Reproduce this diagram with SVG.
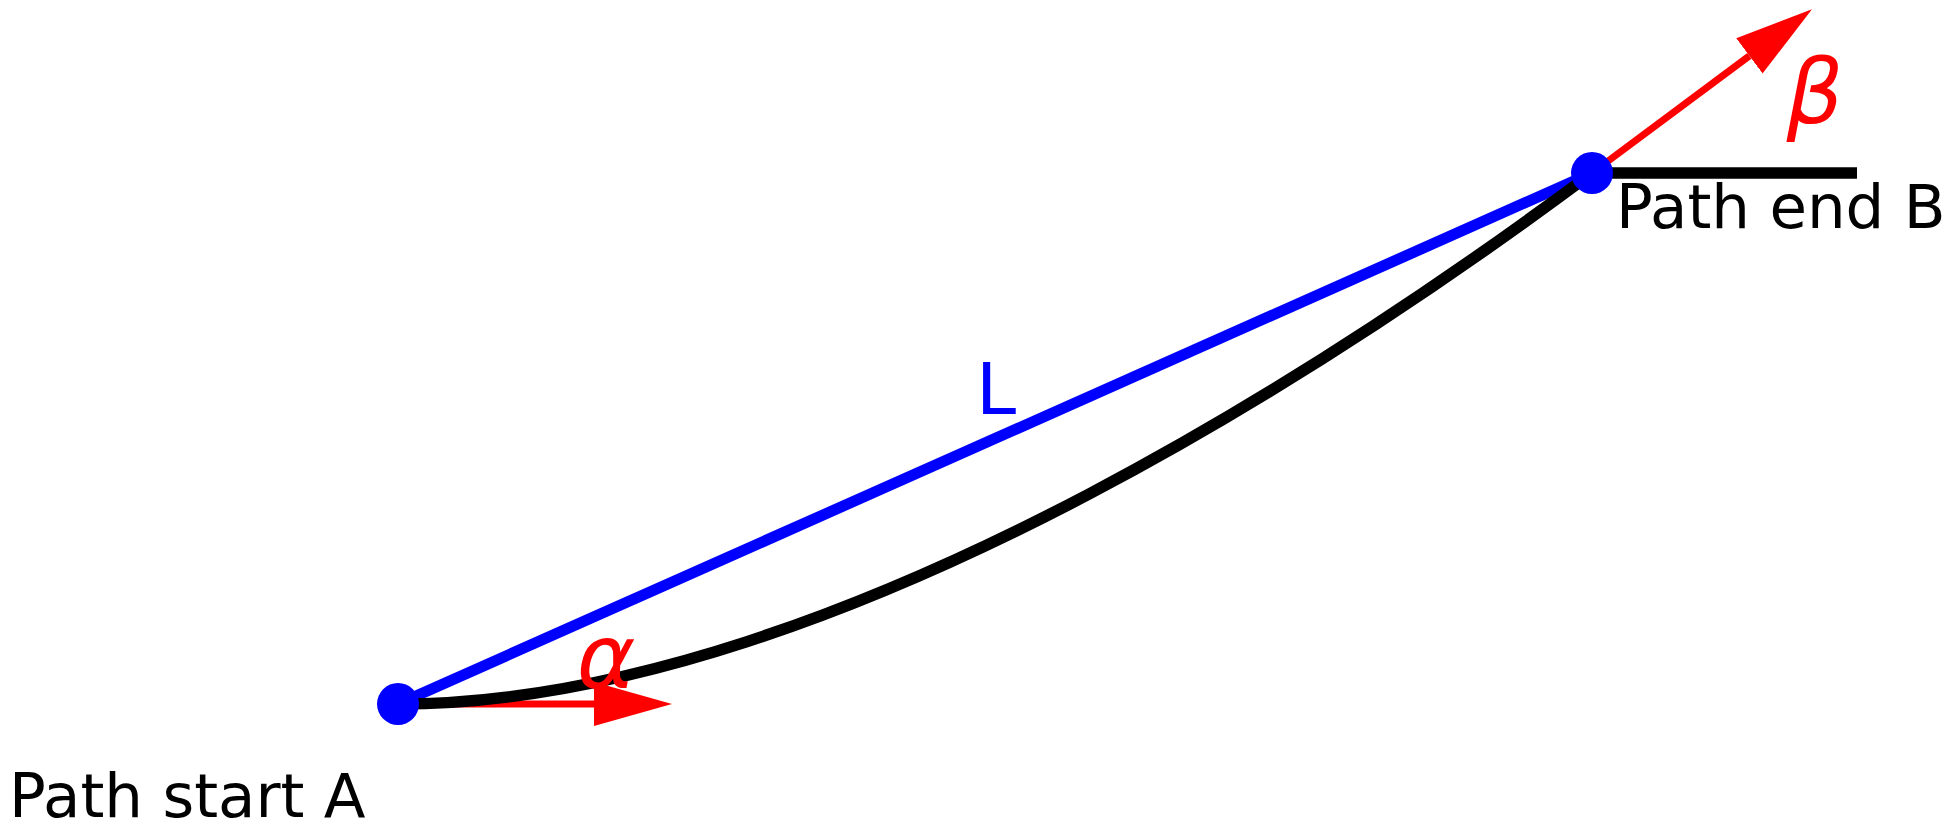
<svg xmlns="http://www.w3.org/2000/svg" width="1959" height="836" viewBox="0 0 1959 836">
  <style>
    .lbl { font-family: "DejaVu Sans", "Liberation Sans", sans-serif; font-size: 61px; fill: #000000; }
    .greek { font-family: "DejaVu Sans", "Liberation Sans", sans-serif; font-style: italic; font-size: 89px; fill: #ff0000; }
    .len { font-family: "DejaVu Sans", "Liberation Sans", sans-serif; font-size: 72px; fill: #0000ff; }
    .tan { stroke: #ff0000; stroke-width: 7; fill: none; marker-end: url(#head); }
    .path { stroke: #000000; stroke-width: 11.5; fill: none; }
    .chord { stroke: #0000ff; stroke-width: 11; fill: none; }
    .pt { fill: #0000ff; }
  </style>
  <defs>
    <marker id="head" viewBox="0 0 78 44" refX="0" refY="22" markerWidth="78" markerHeight="44" markerUnits="userSpaceOnUse" orient="auto">
      <path d="M0,0 L78,22 L0,44 Z" fill="#ff0000"/>
    </marker>
  </defs>
  <rect width="1959" height="836" fill="#ffffff"/>
  <g id="connectors">
    <line class="tan" x1="398" y1="704" x2="594" y2="704"/>
    <line class="tan" x1="1592" y1="173" x2="1749.4" y2="55.9"/>
    <line class="chord" x1="398" y1="704" x2="1592" y2="173"/>
    <path class="path" d="M398,704 C848,704 1393,321 1592,173"/>
    <line class="path" x1="1592" y1="173" x2="1857" y2="173"/>
  </g>
  <g id="A">
    <circle class="pt" cx="398" cy="704" r="21"/>
    <text class="lbl" x="9" y="817">Path start A</text>
  </g>
  <g id="B">
    <circle class="pt" cx="1592" cy="173" r="21"/>
    <text class="lbl" x="1616" y="228">Path end B</text>
  </g>
  <g id="labels">
    <text class="greek" x="606" y="688" text-anchor="middle">α</text>
    <text class="greek" x="1815" y="123" text-anchor="middle">β</text>
    <text class="len" x="976" y="414">L</text>
  </g>
</svg>
